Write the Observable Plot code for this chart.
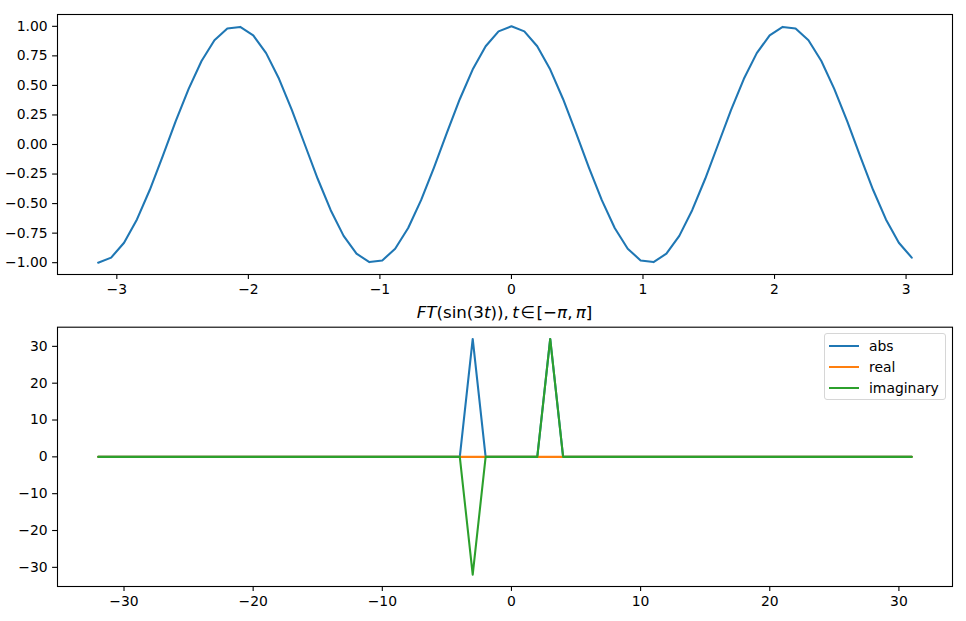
<!DOCTYPE html>
<html>
<head>
<meta charset="utf-8">
<script src="https://cdn.jsdelivr.net/npm/d3@7"></script>
<script src="https://cdn.jsdelivr.net/npm/@observablehq/plot@0.6"></script>
<style>
  html, body { margin: 0; padding: 0; background: #fff; }
  #wrap { position: relative; width: 966px; height: 621px; font-family: "DejaVu Sans", sans-serif; color: #000; overflow: hidden; }
  #topPanel, #bottomPanel { position: absolute; left: 0; }
  #topPanel { top: 0; }
  #bottomPanel { top: 300px; }
  #title { position: absolute; left: 57px; width: 895px; top: 301px; height: 22px; line-height: 22px; text-align: center; font-size: 16.7px; font-family: "DejaVu Sans", sans-serif; white-space: nowrap; }
  #legend { position: absolute; left: 824px; top: 333px; width: 122px; height: 67px; border: 1px solid #d6d6d6; border-radius: 3px; background: rgba(255,255,255,0.8); box-sizing: border-box; }
  .row { position: absolute; left: 0; height: 20px; line-height: 20px; font-size: 13.9px; }
  .row .sw { position: absolute; left: 4px; top: 9px; width: 30px; height: 2.1px; }
  .row .lb { position: absolute; left: 44px; top: 0; white-space: nowrap; }
</style>
</head>
<body>
<div id="wrap">
  <div id="topPanel"></div>
  <div id="bottomPanel"></div>
  <div id="title"><i>FT</i>(sin(3<i>t</i>)),&#8201;<i>t</i>&#8202;∈&#8202;[−<i>π</i>,&#8201;<i>π</i>]</div>
  <div id="legend"></div>
</div>
<script>
// ---- Top panel data: samples over [-π, π)
const tVals = [
  -3.142, -3.043, -2.945, -2.847, -2.749, -2.651, -2.553, -2.454,
  -2.356, -2.258, -2.160, -2.062, -1.963, -1.865, -1.767, -1.669,
  -1.571, -1.473, -1.374, -1.276, -1.178, -1.080, -0.982, -0.884,
  -0.785, -0.687, -0.589, -0.491, -0.393, -0.295, -0.196, -0.098,
   0.000,  0.098,  0.196,  0.295,  0.393,  0.491,  0.589,  0.687,
   0.785,  0.884,  0.982,  1.080,  1.178,  1.276,  1.374,  1.473,
   1.571,  1.669,  1.767,  1.865,  1.963,  2.062,  2.160,  2.258,
   2.356,  2.454,  2.553,  2.651,  2.749,  2.847,  2.945,  3.043
];
const signalVals = [
  -1.000, -0.957, -0.831, -0.634, -0.383, -0.098,  0.195,  0.471,
   0.707,  0.882,  0.981,  0.995,  0.924,  0.773,  0.556,  0.290,
   0.000, -0.290, -0.556, -0.773, -0.924, -0.995, -0.981, -0.882,
  -0.707, -0.471, -0.195,  0.098,  0.383,  0.634,  0.831,  0.957,
   1.000,  0.957,  0.831,  0.634,  0.383,  0.098, -0.195, -0.471,
  -0.707, -0.882, -0.981, -0.995, -0.924, -0.773, -0.556, -0.290,
   0.000,  0.290,  0.556,  0.773,  0.924,  0.995,  0.981,  0.882,
   0.707,  0.471,  0.195, -0.098, -0.383, -0.634, -0.831, -0.957
];
const topXTicks = [-3, -2, -1, 0, 1, 2, 3];
const topYTicks = [-1, -0.75, -0.5, -0.25, 0, 0.25, 0.5, 0.75, 1];

// ---- Bottom panel data: frequencies -32..31
const freq = [
  -32, -31, -30, -29, -28, -27, -26, -25, -24, -23, -22, -21, -20, -19, -18, -17,
  -16, -15, -14, -13, -12, -11, -10,  -9,  -8,  -7,  -6,  -5,  -4,  -3,  -2,  -1,
    0,   1,   2,   3,   4,   5,   6,   7,   8,   9,  10,  11,  12,  13,  14,  15,
   16,  17,  18,  19,  20,  21,  22,  23,  24,  25,  26,  27,  28,  29,  30,  31
];
const absVals = [
  0, 0, 0, 0, 0, 0, 0, 0, 0, 0, 0, 0, 0, 0, 0, 0,
  0, 0, 0, 0, 0, 0, 0, 0, 0, 0, 0, 0, 0, 32, 0, 0,
  0, 0, 0, 32, 0, 0, 0, 0, 0, 0, 0, 0, 0, 0, 0, 0,
  0, 0, 0, 0, 0, 0, 0, 0, 0, 0, 0, 0, 0, 0, 0, 0
];
const realVals = [
  0, 0, 0, 0, 0, 0, 0, 0, 0, 0, 0, 0, 0, 0, 0, 0,
  0, 0, 0, 0, 0, 0, 0, 0, 0, 0, 0, 0, 0, 0, 0, 0,
  0, 0, 0, 0, 0, 0, 0, 0, 0, 0, 0, 0, 0, 0, 0, 0,
  0, 0, 0, 0, 0, 0, 0, 0, 0, 0, 0, 0, 0, 0, 0, 0
];
const imagVals = [
  0, 0, 0, 0, 0, 0, 0, 0, 0, 0, 0, 0, 0, 0, 0, 0,
  0, 0, 0, 0, 0, 0, 0, 0, 0, 0, 0, 0, 0, -32, 0, 0,
  0, 0, 0, 32, 0, 0, 0, 0, 0, 0, 0, 0, 0, 0, 0, 0,
  0, 0, 0, 0, 0, 0, 0, 0, 0, 0, 0, 0, 0, 0, 0, 0
];
const bottomXTicks = [-30, -20, -10, 0, 10, 20, 30];
const bottomYTicks = [-30, -20, -10, 0, 10, 20, 30];
const seriesNames = ["abs", "real", "imaginary"];
const seriesColors = ["#1f77b4", "#ff7f0e", "#2ca02c"];

const LW = 2.08, FS = 13.9, TS = 4.9, TP = 4.9;
const axisStyle = { fontSize: FS, tickSize: TS, tickPadding: TP, strokeWidth: 1.1, stroke: "#000", fill: "#000" };

const topChart = Plot.plot({
  width: 966, height: 300,
  marginLeft: 57, marginRight: 14, marginTop: 14, marginBottom: 26,
  style: { fontFamily: "DejaVu Sans", color: "#000", background: "transparent" },
  x: { domain: [-3.451, 3.353], label: null },
  y: { domain: [-1.1, 1.1], label: null },
  marks: [
    Plot.lineY(signalVals, { x: tVals, stroke: seriesColors[0], strokeWidth: LW }),
    Plot.frame({ stroke: "#000", strokeWidth: 1.1 }),
    Plot.axisX({ ...axisStyle, ticks: topXTicks, tickFormat: d3.format("d") }),
    Plot.axisY({ ...axisStyle, ticks: topYTicks, tickFormat: d3.format(".2f") })
  ]
});
document.getElementById("topPanel").appendChild(topChart);

const bottomChart = Plot.plot({
  width: 966, height: 321,
  marginLeft: 57, marginRight: 14, marginTop: 26.7, marginBottom: 35,
  style: { fontFamily: "DejaVu Sans", color: "#000", background: "transparent" },
  x: { domain: [-35.15, 34.15], label: null },
  y: { domain: [-35.2, 35.2], label: null },
  marks: [
    Plot.lineY(absVals, { x: freq, stroke: seriesColors[0], strokeWidth: LW }),
    Plot.lineY(realVals, { x: freq, stroke: seriesColors[1], strokeWidth: LW }),
    Plot.lineY(imagVals, { x: freq, stroke: seriesColors[2], strokeWidth: LW }),
    Plot.frame({ stroke: "#000", strokeWidth: 1.1 }),
    Plot.axisX({ ...axisStyle, ticks: bottomXTicks, tickFormat: d3.format("d") }),
    Plot.axisY({ ...axisStyle, ticks: bottomYTicks, tickFormat: d3.format("d") })
  ]
});
document.getElementById("bottomPanel").appendChild(bottomChart);

const legend = document.getElementById("legend");
seriesNames.forEach((name, i) => {
  const row = document.createElement("div");
  row.className = "row";
  row.style.top = (2 + i * 20.8) + "px";
  row.style.width = "120px";
  const sw = document.createElement("div");
  sw.className = "sw";
  sw.style.background = seriesColors[i];
  const lb = document.createElement("div");
  lb.className = "lb";
  lb.textContent = name;
  row.appendChild(sw);
  row.appendChild(lb);
  legend.appendChild(row);
});
</script>
</body>
</html>
